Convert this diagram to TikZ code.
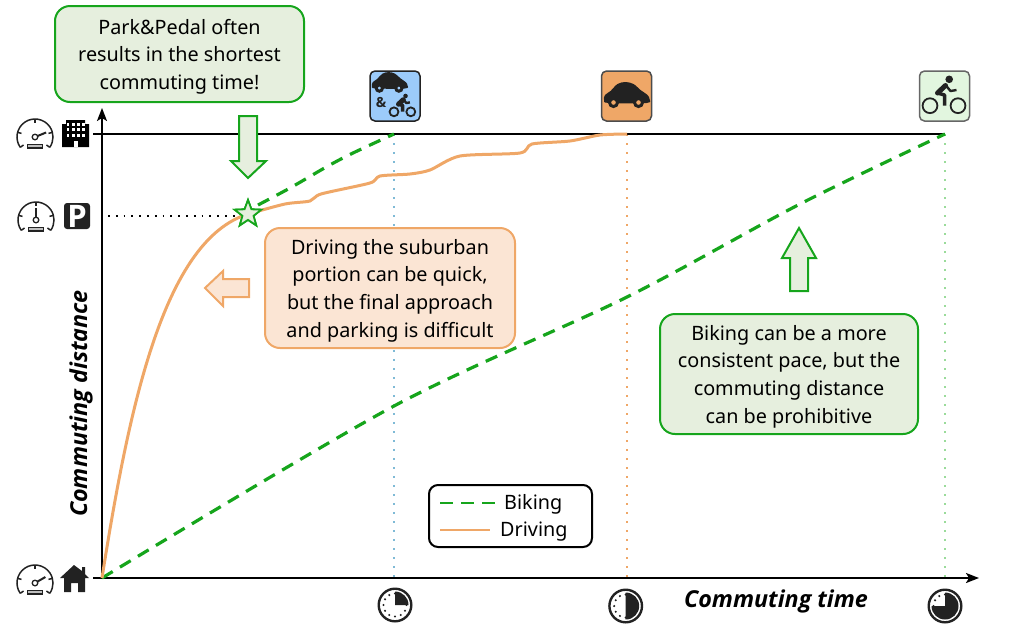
\documentclass[tikz,border=0pt]{standalone}
\usepackage{fontspec}
\setmainfont{Noto Sans}
\newfontfamily\titlefont{Open Sans}
\usetikzlibrary{arrows.meta,positioning,calc,shapes.geometric}
\definecolor{bikegreen}{HTML}{16A51C}
\definecolor{greenfill}{HTML}{E6EFDE}
\definecolor{driveorange}{HTML}{EFA767}
\definecolor{orangefill}{HTML}{FBE5D4}
\definecolor{iconblue}{HTML}{9CCBFA}
\definecolor{iconmint}{HTML}{E2F6DF}
\definecolor{dotblue}{HTML}{7FBAD6}
\definecolor{dotgreen}{HTML}{9ADB9A}
\definecolor{icondark}{HTML}{222222}
\newcommand{\notetop}{\rule{0pt}{20.5pt}}
\tikzset{
  axisline/.style={-{Stealth[length=13pt,width=10pt,inset=3pt]}, line width=2pt, black},
  bikeline/.style={bikegreen, line width=3.2pt, dash pattern=on 12.5pt off 8.5pt},
  driveline/.style={driveorange, line width=3pt},
  guide/.style={line width=2pt, dash pattern=on 2pt off 7pt},
  note/.style={rounded corners=15pt, line width=2pt, align=center, inner sep=0pt, font=\fontsize{19.8}{27.8}\selectfont},
  greennote/.style={note, draw=bikegreen, fill=greenfill},
  orangenote/.style={note, draw=driveorange, fill=orangefill},
  iconbox/.style={draw=#1, rounded corners=5pt, line width=1.5pt, minimum size=50pt, inner sep=0pt},
  biglabel/.style={font=\titlefont\fontsize{23.3}{28}\bfseries\itshape\selectfont},
  legendtext/.style={font=\fontsize{19.8}{24}\selectfont, anchor=west, inner sep=0pt},
  switchstar/.style={star, star points=5, star point ratio=2.4, draw=bikegreen, fill=greenfill, line width=1.8pt,
    minimum size=28pt, inner sep=0pt},
  blockarrow/.style={line width=2pt, line join=miter},
  pics/gauge/.style={code={
    \begin{scope}[yscale=-1, icondark]
      \draw[line width=1.5pt] (215:18) arc (215:-35:18);
      \foreach \a in {215,165,90,15,-35}{
        \draw[line width=1.5pt] (\a:18) -- (\a:14);
      }
      \draw[line width=1.3pt] (0,0) circle (2.8);
      \draw[line width=2pt] (#1:2.8) -- (#1:12);
      \draw[line width=1.2pt, fill=black!25] (-7.5,-11) rectangle (7.5,-7.8);
    \end{scope}
  }},
  pics/carshape/.style={code={
    \begin{scope}[yscale=-1]
      \fill[icondark] plot[smooth cycle, tension=.55] coordinates {(-22.5,-4) (-21.5,1) (-16,5) (-9,12) (-1,14) (7,12)
        (14,6) (21,1) (23,-3) (20,-7) (-18,-7)};
      \foreach \x in {-13,12}{
        \draw[icondark, line width=3pt, fill=#1] (\x,-6.5) circle (4);
      }
    \end{scope}
  }},
  pics/rider/.style={code={
    \begin{scope}[yscale=-1, icondark]
      \foreach \x in {-14.5,13.5}{
        \draw[line width=1.8pt] (\x,-9.7) circle (7.4);
      }
      \fill (4.7,16.7) circle (3.8);
      \draw[line width=5pt, line join=round, line cap=round] (-7,3) -- (1,10.5);
      \draw[line width=2.4pt, line join=round] (1,11) -- (6,5) -- (12,6);
      \draw[line width=3.5pt, line join=round] (-7,3) -- (0,1) -- (0,-9.5);
    \end{scope}
  }},
  pics/clockface/.style={code={
    \begin{scope}[yscale=-1, icondark]
      \foreach \a in {0,30,...,330}{
        \fill (\a:11.5) circle (1.2);
      }
      \fill (0,0) -- (90:13.5) arc (90:#1:13.5) -- cycle;
      \draw[line width=2.4pt] (0,0) circle (16.3);
    \end{scope}
  }},
}
\begin{document}
\begin{tikzpicture}[x=1pt,y=-1pt]
  \useasboundingbox (0,0) rectangle (1024,630);

  % axes
  \coordinate (origin) at (102,578);
  \coordinate (yend) at (102,108);
  \coordinate (xend) at (979,578);
  \coordinate (topleft) at (93,134);
  \coordinate (topbike) at (945,134);
  \coordinate (topdrive) at (627,134);
  \coordinate (toppark) at (394,134);
  \coordinate (lowbike) at (945,578);
  \coordinate (lowdrive) at (627,578);
  \coordinate (lowpark) at (394,578);
  \coordinate (axisleft) at (93,578);

  % dotted guides
  \draw[guide, dotblue] (toppark) -- (lowpark);
  \draw[guide, driveorange] (topdrive) -- (lowdrive);
  \draw[guide, dotgreen] (topbike) -- (lowbike);

  \draw[line width=2pt] (topleft) -- (topbike);
  \draw[axisline] (origin) -- (yend);
  \draw[axisline] (axisleft) -- (xend);

  % curves
  \node[switchstar] (switch) at (248,214) {};
  \coordinate (pstart) at (108,216);
  \draw[black, line width=1.8pt, dash pattern=on 1.8pt off 6pt] (pstart) -- (switch.west |- pstart);
  \draw[bikeline] plot[smooth] coordinates {(origin) (394,406) (627,297) (800,204) (topbike)};
  \coordinate (branch) at (258,205);
  \draw[bikeline] plot[smooth] coordinates {(branch) (290,188) (328,166) (353,153) (toppark)};
  \draw[driveline] (origin) .. controls (130,400) and (165,240) .. (switch.center);
  \draw[driveline] plot[smooth, tension=.45] coordinates {(switch.center) (285,204) (310,201) (321,194) (370,183) (380,176)
    (410,174) (430,170) (460,156) (520,153) (532,144) (570,141) (600,135) (topdrive)};
  \node[switchstar] at (switch) {};

  % callouts
  \node[greennote, minimum width=249pt, minimum height=96pt] (parknote) at (179.5,54)
    {\notetop Park\&Pedal often\\results in the shortest\\commuting time!};
  \node[orangenote, minimum width=250pt, minimum height=120pt] (drivenote) at (390,288)
    {\notetop Driving the suburban\\portion can be quick,\\but the final approach\\and parking is difficult};
  \node[greennote, minimum width=258pt, minimum height=120pt] (bikenote) at (789,374)
    {\notetop Biking can be a more\\consistent pace, but the\\commuting distance\\can be prohibitive};

  % block arrows
  \draw[blockarrow, bikegreen, fill=greenfill] (239,116) -- (257,116) -- (257,161) -- (266,161) -- (248,178)
    -- (231,161) -- (239,161) -- cycle;
  \draw[blockarrow, driveorange, fill=orangefill] (249,279) -- (223,279) -- (223,271) -- (205,288)
    -- (223,306) -- (223,297) -- (249,297) -- cycle;
  \draw[blockarrow, bikegreen, fill=greenfill] (790,291) -- (790,258) -- (782,258) -- (799,228)
    -- (816,258) -- (808,258) -- (808,291) -- cycle;

  % legend
  \node[draw, line width=2pt, rounded corners=9pt, minimum width=163pt, minimum height=62pt] (legend) at (510.5,516) {};
  \coordinate (bikekeyl) at (440,503);
  \coordinate (bikekeyr) at (496,503);
  \coordinate (drivekeyl) at (440,530);
  \coordinate (drivekeyr) at (490,530);
  \draw[bikeline, line width=2.6pt] (bikekeyl) -- (bikekeyr);
  \draw[driveline, line width=2.6pt] (drivekeyl) -- (drivekeyr);
  \node[legendtext] (biketext) at (504,504) {Biking};
  \node[legendtext] (drivetext) at (500,532) {Driving};

  % axis titles
  \node[biglabel, rotate=90] (ytitle) at (81,403.5) {Commuting distance};
  \node[biglabel] (xtitle) at (776,601) {Commuting time};

  % mode icons
  \node[iconbox=icondark, fill=iconblue] (parkicon) at (395,96) {};
  \pic[scale=.78] at (389.5,83) {carshape=iconblue};
  \pic[scale=.6] at (402.7,106) {rider};
  \node[font=\titlefont\bfseries\fontsize{14}{14}\selectfont, inner sep=0pt, icondark] (amp) at (381,102) {\&};
  \node[iconbox=black!70, fill=driveorange] (driveicon) at (626.5,96) {};
  \pic at (626.5,96) {carshape=driveorange};
  \node[iconbox=black!60, fill=iconmint] (bikeicon) at (944.5,96) {};
  \pic at (944.5,96) {rider};

  % clocks
  \pic at (395,605) {clockface=0};
  \pic at (625.7,606) {clockface=-90};
  \pic at (945,606) {clockface=-180};

  % gauges
  \pic at (35,137) {gauge=22};
  \pic at (36,220) {gauge=90};
  \pic at (35,583) {gauge=30};

  % building
  \fill[black] (66,120) rectangle (85,124) (62,124) rectangle (89,147);
  \foreach \i in {0,1,2,3}{
    \foreach \j in {0,1,2}{
      \fill[white] (66.5+5.2*\i,122.5+5.6*\j) rectangle ++(2.8,3);
    }
  }
  \fill[white] (73.5,140.5) rectangle (77.5,147);

  % parking sign
  \node[fill=icondark, rounded corners=3pt, minimum size=26pt, inner sep=0pt, text=white,
        font=\titlefont\fontsize{31}{31}\bfseries\selectfont] (parking) at (77,216) {P};

  % house
  \fill[icondark] (74,565) -- (82,571) -- (82,567) -- (85,567) -- (85,574) -- (89,578) -- (85,578) -- (85,592)
    -- (78,592) -- (78,583) -- (71,583) -- (71,592) -- (64,592) -- (64,578) -- (60,578) -- cycle;
\end{tikzpicture}
\end{document}
